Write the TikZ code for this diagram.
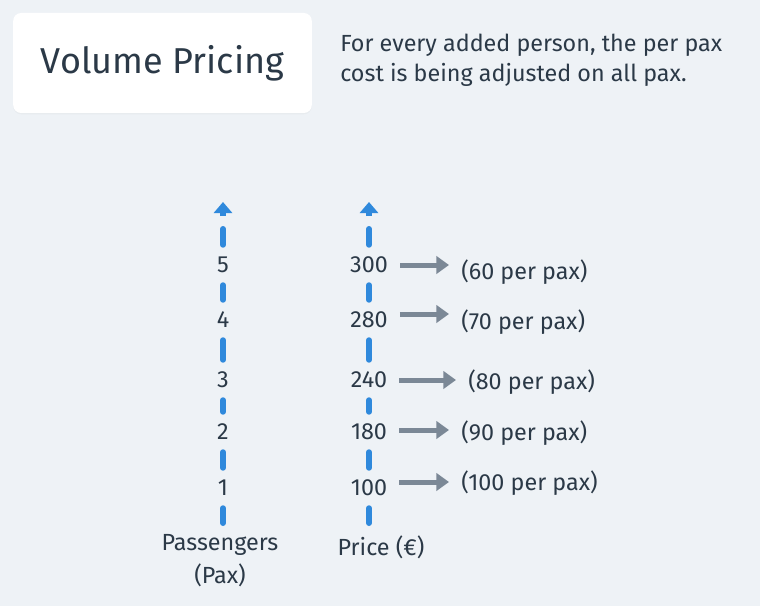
\documentclass[tikz,border=0pt]{standalone}
\usepackage{fontspec}
\setmainfont{Fira Sans}
\usetikzlibrary{positioning, calc}
\usetikzlibrary{arrows.meta}
\usetikzlibrary{shadows}

\definecolor{pagebg}{HTML}{EEF2F6}
\definecolor{inkdark}{HTML}{2B3947}
\definecolor{axisblue}{HTML}{2F89DC}
\definecolor{stepgray}{HTML}{7B8896}

\tikzset{
  titlebox/.style={fill=white, rounded corners=6pt, minimum width=224pt, minimum height=75pt,
    text=inkdark, font=\fontsize{27}{32}\selectfont,
    drop shadow={shadow xshift=0pt, shadow yshift=-1pt, opacity=0.05}},
  num/.style={text=inkdark, font=\fontsize{17.5}{21}\selectfont, minimum height=30pt, inner sep=0pt},
  perpax/.style={text=inkdark, font=\fontsize{17.5}{21}\selectfont, anchor=west, inner sep=0pt},
  axis/.style={axisblue, line width=4.5pt, line cap=round},
  axishead/.style={axisblue, line width=4.5pt, -{Triangle[length=8.25pt,width=13.5pt]}},
  steparrow/.style={stepgray, line width=3.75pt, shorten <=9pt, shorten >=9pt,
    -{Triangle[length=9.5pt,width=13pt]}},
}

\begin{document}
\begin{tikzpicture}[x=0.75pt, y=-0.75pt]
  \fill[pagebg] (0,0) rectangle (760,606);
  \useasboundingbox (0,0) rectangle (760,606);

  % header
  \node[titlebox] (title) at (162.5,63) {Volume Pricing};
  \node[anchor=base west, align=left, inner sep=0pt, text=inkdark,
    font=\fontsize{17.5}{22.5}\selectfont] (blurb) at (340,82)
    {For every added person, the per pax\\cost is being adjusted on all pax.};

  % passengers axis
  \node[num] (n1) at (223,488) {1};
  \node[num] (n2) at (223,432) {2};
  \node[num] (n3) at (223,380) {3};
  \node[num] (n4) at (223,320) {4};
  \node[num] (n5) at (223,265) {5};
  \coordinate (nbot) at (223,523);
  \coordinate (ntop) at (223,229);
  \coordinate (nstem) at (223,216);
  \coordinate (ntip) at (223,202);
  \draw[axis] (nbot) -- (n1);
  \draw[axis] (n1) -- (n2);
  \draw[axis] (n2) -- (n3);
  \draw[axis] (n3) -- (n4);
  \draw[axis] (n4) -- (n5);
  \draw[axis] (n5) -- (ntop);
  \draw[axishead] (nstem) -- (ntip);
  \node[text=inkdark, align=center, inner sep=0pt, font=\fontsize{17.5}{24.75}\selectfont]
    (pax) at (220,561) {Passengers\\(Pax)};

  % price axis
  \node[num] (p100) at (369,488) {100};
  \node[num] (p180) at (369,432) {180};
  \node[num] (p240) at (369,380) {240};
  \node[num] (p280) at (369,320) {280};
  \node[num] (p300) at (369,265) {300};
  \coordinate (pbot) at (369,523);
  \coordinate (ptop) at (369,229);
  \coordinate (pstem) at (369,216);
  \coordinate (ptip) at (369,202);
  \draw[axis] (pbot) -- (p100);
  \draw[axis] (p100) -- (p180);
  \draw[axis] (p180) -- (p240);
  \draw[axis] (p240) -- (p280);
  \draw[axis] (p280) -- (p300);
  \draw[axis] (p300) -- (ptop);
  \draw[axishead] (pstem) -- (ptip);
  \node[text=inkdark, inner sep=0pt, font=\fontsize{17.5}{21}\selectfont]
    (price) at (381,547) {Price (€)};

  % per pax
  \node[perpax] (c60) at (461,272) {(60 per pax)};
  \node[perpax] (c70) at (461,322) {(70 per pax)};
  \node[perpax] (c80) at (468,382) {(80 per pax)};
  \node[perpax] (c90) at (461,433) {(90 per pax)};
  \node[perpax] (c100) at (461,483) {(100 per pax)};
  \draw[steparrow] (p300.east) -- (p300.east -| c60.west);
  \draw[steparrow] ([yshift=4.5pt]p280.east) -- ([yshift=4.5pt]p280.east -| c70.west);
  \draw[steparrow] (p240.east) -- (p240.east -| c80.west);
  \draw[steparrow] ([yshift=1.5pt]p180.east) -- ([yshift=1.5pt]p180.east -| c90.west);
  \draw[steparrow] ([yshift=4.5pt]p100.east) -- ([yshift=4.5pt]p100.east -| c100.west);
\end{tikzpicture}
\end{document}
